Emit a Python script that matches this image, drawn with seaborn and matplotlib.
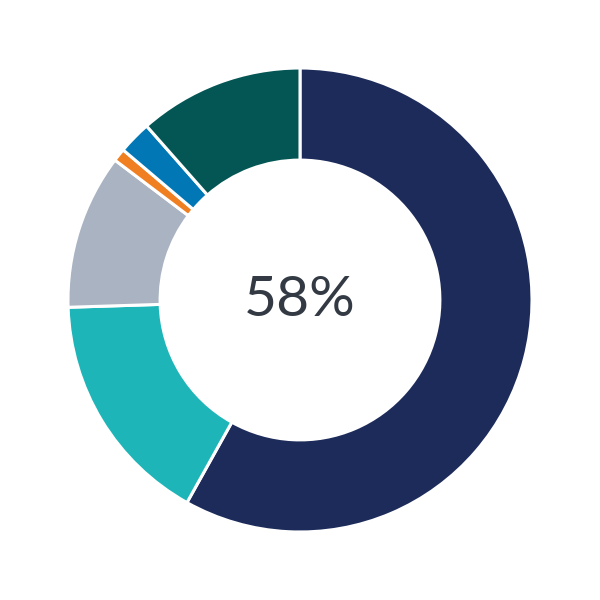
import matplotlib
matplotlib.use("Agg")
import matplotlib.pyplot as plt
import seaborn as sns

categories = ["Navy", "Teal", "Gray", "Orange", "Blue", "Dark green"]
values = [58.1, 16.4, 10.8, 0.9, 2.3, 11.5]
colors = ["#1c2b5a", "#1db5b8", "#a9b3c1", "#f07f22", "#0177b5", "#045655"]
center_label = "58%"

sns.set_theme(style="white")
plt.rcParams['font.family'] = ['Lato', 'DejaVu Sans']

fig = plt.figure(figsize=(6, 6), dpi=100)
ax = fig.add_axes([0, 0, 1, 1])
ax.pie(values, colors=colors, startangle=90, counterclock=False, radius=1.0,
       wedgeprops=dict(width=0.397, edgecolor="white", linewidth=2.2))
lim = 300 / 232
ax.set_xlim(-lim, lim)
ax.set_ylim(-lim, lim)
ax.set_aspect("equal")
ax.axis("off")
ax.text(0, 0, center_label, ha="center", va="center", fontsize=41,
        color="#333a44", fontweight="normal")
fig.savefig("out.png", dpi=100, facecolor="white")
